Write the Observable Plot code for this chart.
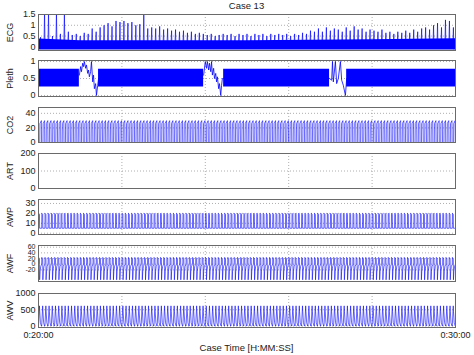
<!DOCTYPE html>
<html><head><meta charset="utf-8">
<script src="https://cdn.jsdelivr.net/npm/d3@7"></script>
<script src="https://cdn.jsdelivr.net/npm/@observablehq/plot@0.6"></script>
<style>
body{margin:0;background:#fff;}
#chart{position:relative;width:474px;height:355px;background:#fff;font-family:"Liberation Sans",Arial,sans-serif;color:#222;overflow:hidden}
#chart svg{position:absolute;left:0;}
.lbl{position:absolute;text-align:center;font-size:9.5px;line-height:11px;white-space:nowrap;color:#222}
</style></head><body>
<div id="chart">
<div class="lbl" style="left:38px;width:417px;top:0px">Case 13</div>
<div class="lbl" style="left:38px;width:417px;top:342px">Case Time [H:MM:SS]</div>
</div>
<script>
// ---------------- DATA ----------------
const timeRange = [20, 30];                 // minutes after 0:00:00
const xGrid = [22, 24, 26, 28];
const xTickValues = [20, 30];
const xTickLabels = ["0:20:00", "0:30:00"];

const panelNames = ["ECG", "Pleth", "CO2", "ART", "AWP", "AWF", "AWV"];
const yDomains = [[-0.17, 1.5], [-0.03, 1.03], [0, 48], [0, 200], [-1.3, 34], [-61, 66], [-46, 1000]];
const yTicks = [[0, 0.5, 1, 1.5], [0, 0.5, 1], [0, 20, 40], [0, 100, 200], [0, 10, 20, 30], [-20, 0, 20, 40, 60], [0, 500, 1000]];
const tickFontSizes = [9, 9, 9, 9, 9, 7, 9];

// ECG: visible beat peaks across the window, and the dense baseline band
const ecgBeatSpan = [20.05, 29.95];
const ecgPeaks = [0.45,1.6,1.6,0.5,1.6,0.6,1.6,0.7,0.55,0.6,0.5,0.65,0.6,0.85,0.7,0.9,1.0,1.1,0.95,1.2,1.15,1.2,1.1,1.15,1.0,1.05,1.6,0.85,0.9,0.85,0.95,0.8,0.85,0.75,0.8,0.7,0.75,0.65,0.7,0.6,0.65,0.6,0.55,0.6,0.5,0.55,0.6,0.55,0.6,0.5,0.6,0.55,0.6,0.5,0.6,0.55,0.6,0.5,0.6,0.55,0.6,0.55,0.6,0.5,0.6,0.55,0.65,0.6,0.75,0.7,0.85,0.7,0.9,0.75,0.85,0.8,0.7,0.9,0.75,0.95,0.8,0.85,0.7,0.8,0.75,0.7,0.8,0.65,0.7,0.6,0.7,0.65,0.75,0.65,0.8,0.7,0.85,0.9,0.8,1.0,1.1,0.9,1.25,1.2,0.9];
const ecgBandTimes = [20, 21, 25, 28, 30];
const ecgBandLow = [-0.15, -0.15, -0.15, -0.15, -0.15];
const ecgBandHigh = [0.36, 0.28, 0.28, 0.33, 0.38];

// Pleth: dense pulse band segments and NIBP artefacts
const plethBandSegments = [[20, 20.98], [21.44, 23.96], [24.44, 26.98], [27.39, 30]];
const plethBandLow = 0.25;
const plethBandHigh = 0.77;
const plethArtefact1 = [[20.98,0.6],[21.01,0.85],[21.03,0.7],[21.06,0.95],[21.08,0.85],[21.10,1.0],[21.13,0.8],[21.15,0.9],[21.18,0.65],[21.20,0.75],[21.22,0.55],[21.25,0.7],[21.27,1.0],[21.30,0.4],[21.32,0.6],[21.34,0.2],[21.37,0.35],[21.39,0.0],[21.42,0.3],[21.44,0.5]];
const plethArtefact2 = [[23.96,0.6],[24.00,1.0],[24.03,0.8],[24.05,1.0],[24.08,0.75],[24.10,0.95],[24.13,0.7],[24.15,1.0],[24.17,0.6],[24.20,0.8],[24.22,0.5],[24.25,0.65],[24.27,0.4],[24.29,0.55],[24.32,0.2],[24.34,0.35],[24.37,0.0],[24.39,0.3],[24.41,0.5],[24.44,0.5]];
const plethArtefact3 = [[26.98,0.5],[27.03,0.45],[27.05,1.0],[27.07,0.4],[27.12,1.0],[27.15,0.35],[27.19,0.5],[27.24,1.0],[27.27,0.45],[27.31,0.3],[27.36,0.0],[27.39,0.5]];

// Respiratory channels: breaths per minute and one breath's shape (phase, value)
const respRate = 13;
const co2Breath = [[0,0],[0.4,0],[0.45,26],[0.9,30],[0.95,0],[1,0]];
const awpBreath = [[0,5],[0.05,20],[0.3,19],[0.35,5],[1,5]];
const awfBreath = [[0,0],[0.03,24],[0.3,20],[0.33,0],[0.36,-55],[0.5,-25],[0.7,-8],[1,0]];
const awvBreath = [[0,0],[0.3,620],[0.38,450],[0.6,100],[0.9,0],[1,0]];

// ---------------- BUILD ----------------
const blue = "#0000ff";
function breaths(shape) {
  const out = [];
  const n = Math.round((timeRange[1] - timeRange[0]) * respRate);
  for (let i = 0; i < n; i++) {
    const t0 = timeRange[0] + i / respRate;
    for (const [f, v] of shape) out.push({t: t0 + f / respRate, v});
  }
  return out;
}
const ecgBand = ecgBandTimes.map((t, i) => ({t, lo: ecgBandLow[i], hi: ecgBandHigh[i]}));
const ecgSpikes = [];
ecgPeaks.forEach((p, i) => {
  const t = ecgBeatSpan[0] + i * (ecgBeatSpan[1] - ecgBeatSpan[0]) / (ecgPeaks.length - 1);
  ecgSpikes.push({t: t - 0.012, v: 0.25}, {t, v: p}, {t: t + 0.012, v: -0.1});
});
const plethBand = plethBandSegments.flatMap(([a, b], s) => [{t: a, seg: s}, {t: b, seg: s}]);
const plethArt = [plethArtefact1, plethArtefact2, plethArtefact3].flatMap((a, s) => a.map(([t, v]) => ({t, v, seg: s})));

const series = {
  ECG: [
    Plot.areaY(ecgBand, {x: "t", y1: "lo", y2: "hi", fill: blue, clip: true}),
    Plot.line(ecgSpikes, {x: "t", y: "v", stroke: blue, strokeWidth: 0.8, strokeOpacity: 0.85, clip: true})
  ],
  Pleth: [
    Plot.areaY(plethBand, {x: "t", y1: plethBandLow, y2: plethBandHigh, z: "seg", fill: blue, clip: true}),
    Plot.line(plethArt, {x: "t", y: "v", z: "seg", stroke: blue, strokeWidth: 0.8, clip: true})
  ],
  CO2: [Plot.line(breaths(co2Breath), {x: "t", y: "v", stroke: blue, strokeWidth: 0.6, clip: true})],
  ART: [],
  AWP: [Plot.line(breaths(awpBreath), {x: "t", y: "v", stroke: blue, strokeWidth: 0.6, clip: true})],
  AWF: [Plot.line(breaths(awfBreath), {x: "t", y: "v", stroke: blue, strokeWidth: 0.6, clip: true})],
  AWV: [Plot.line(breaths(awvBreath), {x: "t", y: "v", stroke: blue, strokeWidth: 0.6, clip: true})]
};

// ---------------- LAYOUT ----------------
const panelTop = [14, 60, 107, 153, 199, 245, 293];
const panelH = [36, 36, 35, 35, 35, 36, 34];
const mT = 6, mB = 6, mBLast = 20;
const chart = document.getElementById("chart");

panelNames.forEach((name, i) => {
  const last = i === panelNames.length - 1;
  const mb = last ? mBLast : mB;
  const svg = Plot.plot({
    width: 474,
    height: panelH[i] + mT + mb,
    marginLeft: 38, marginRight: 19, marginTop: mT, marginBottom: mb,
    style: {background: "none", fontFamily: "'Liberation Sans', Arial, sans-serif", fontSize: "9px", color: "#222"},
    x: {domain: timeRange, axis: null},
    y: {domain: yDomains[i], axis: null},
    marks: [
      Plot.gridX(xGrid, {stroke: "#999", strokeOpacity: 1, strokeDasharray: "1,2", strokeWidth: 0.8}),
      Plot.gridY(yTicks[i], {stroke: "#999", strokeOpacity: 1, strokeDasharray: "1,2", strokeWidth: 0.8}),
      ...series[name],
      Plot.frame({stroke: "#6a6a6a"}),
      Plot.axisY({ticks: yTicks[i], tickFormat: d => `${d}`, tickSize: 0, tickPadding: 3, fontSize: tickFontSizes[i], label: null}),
      Plot.axisY({ticks: [], label: name, labelAnchor: "center", labelArrow: "none", labelOffset: 32, fontSize: 9}),
      ...(last ? [Plot.axisX({ticks: xTickValues, tickFormat: d => xTickLabels[xTickValues.indexOf(d)],
        tickSize: 0, tickPadding: 4, label: null, fontSize: 9})] : [])
    ]
  });
  svg.style.top = (panelTop[i] - mT) + "px";
  chart.appendChild(svg);
});
</script>
</body></html>
